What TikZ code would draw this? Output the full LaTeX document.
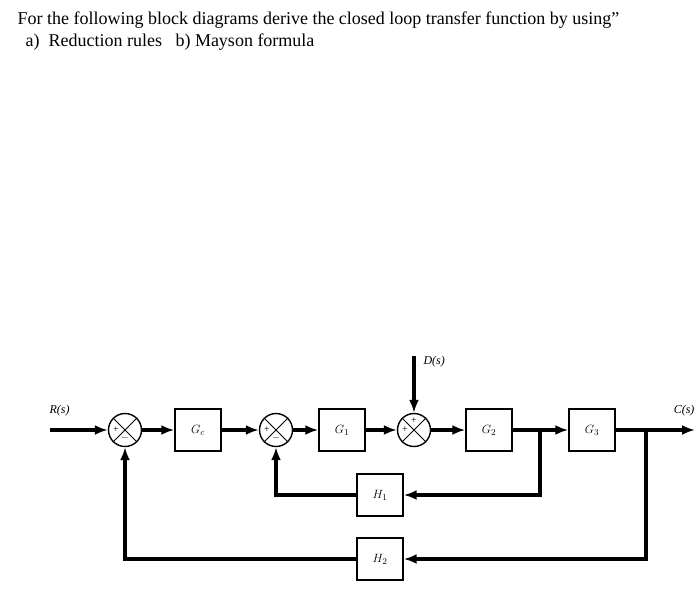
\documentclass[tikz,border=0pt]{standalone}
\usepackage{fontspec}
\setmainfont{Liberation Serif}
\usetikzlibrary{arrows.meta,calc}
\begin{document}
\begin{tikzpicture}[x=1pt,y=-1pt,
  blk/.style={draw,line width=1.4pt,minimum width=46pt,minimum height=42pt,inner sep=0pt,font=\fontsize{13}{15}\selectfont},
  sumj/.style={draw,circle,line width=1.4pt,minimum size=33pt,inner sep=0pt},
  sig/.style={line width=3.2pt,-{Latex[length=13pt,width=10pt]}},
  sg/.style={font=\fontsize{10}{10}\selectfont,inner sep=0pt},
  lbl/.style={font=\itshape\fontsize{12}{14}\selectfont}]
\useasboundingbox (0,0) rectangle (700,607);
\node[anchor=west,font=\fontsize{18}{21}\selectfont] (t1) at (14,20) {For the following block diagrams derive the closed loop transfer function by using''};
\node[anchor=west,font=\fontsize{18}{21}\selectfont] (t2) at (22,42) {a)\ \ Reduction rules\ \ \ b) Mayson formula};
% summing junctions
\foreach \n/\x in {s1/125,s2/276,s3/414}{
  \node[sumj] (\n) at (\x,430) {};
  \draw[line width=0.9pt] (\n.45) -- (\n.225) (\n.135) -- (\n.315);
}
\node[sg] at ($(s1)+(-9,0)$) {+};
\node[sg] at ($(s1)+(0,8)$) {$-$};
\node[sg] at ($(s2)+(-9,0)$) {+};
\node[sg] at ($(s2)+(0,8)$) {$-$};
\node[sg] at ($(s3)+(-9,0)$) {+};
\node[sg] at ($(s3)+(0,-9)$) {+};
% blocks
\node[blk] (gc) at (198,430) {$G_c$};
\node[blk] (g1) at (342,430) {$G_1$};
\node[blk] (g2) at (489,430) {$G_2$};
\node[blk] (g3) at (592,430) {$G_3$};
\node[blk] (h1) at (380,495) {$H_1$};
\node[blk] (h2) at (380,559) {$H_2$};
% inputs / outputs
\coordinate (rin) at (50,430);
\coordinate (din) at (414,356);
\coordinate (cout) at (695,430);
\coordinate (j1) at (540,430);
\coordinate (j2) at (646,430);
\node[lbl,anchor=south west] (rl) at (46,420) {R(s)};
\node[lbl,anchor=west] (dl) at (420,362) {D(s)};
\node[lbl,anchor=south east] (cl) at (698,420) {C(s)};
\draw[sig] (rin) -- (s1.west);
\draw[sig] (s1.east) -- (gc.west);
\draw[sig] (gc.east) -- (s2.west);
\draw[sig] (s2.east) -- (g1.west);
\draw[sig] (g1.east) -- (s3.west);
\draw[sig] (din) -- (s3.north);
\draw[sig] (s3.east) -- (g2.west);
\draw[sig] (g2.east) -- (g3.west);
\draw[sig] (g3.east) -- (cout);
\draw[sig] (j1) |- (h1.east);
\draw[sig] (j2) |- (h2.east);
\draw[sig] (h1.west) -| (s2.south);
\draw[sig] (h2.west) -| (s1.south);
\end{tikzpicture}
\end{document}
